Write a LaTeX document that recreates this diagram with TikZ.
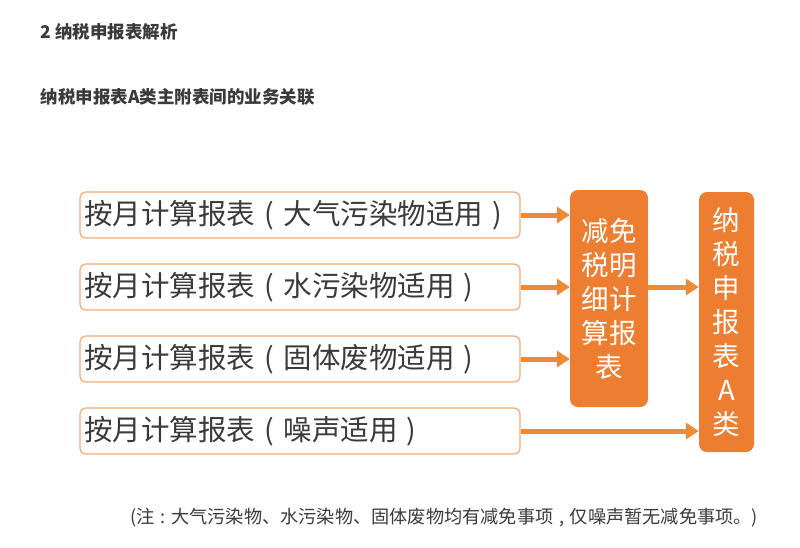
\documentclass[tikz,border=0pt]{standalone}
\usepackage{fontspec}
\setmainfont{Noto Sans CJK SC}
\usetikzlibrary{arrows.meta}

\definecolor{orgfill}{HTML}{ED7D31}
\definecolor{orgline}{HTML}{F7A971}
\definecolor{orgarrow}{HTML}{F08A32}
\definecolor{txtgray}{HTML}{3A3A3A}

% centred full-width punctuation
\newcommand{\fwlp}{\makebox[1em]{(}}
\newcommand{\fwrp}{\makebox[1em]{)}}
\newcommand{\fwcolon}{\makebox[0.9em]{:}}
\newcommand{\fwcomma}{\makebox[0.9em]{,}}

\tikzset{
	monthbox/.style={draw=orgline,line width=1.2pt,rounded corners=6pt,minimum height=46pt,
		inner xsep=4pt,text width=432pt,align=left,text=txtgray,
		font=\fontsize{28.5}{32}\selectfont},
	sumbox/.style={fill=orgfill,rounded corners=8pt,text=white,align=center,
		font=\fontsize{27.5}{34}\selectfont},
	flow/.style={orgarrow,line width=5pt,-{Triangle[length=13pt,width=16pt]}}
}

\begin{document}
\begin{tikzpicture}[x=1pt,y=-1pt]
	\useasboundingbox (0,0) rectangle (800,547);

	%Titles
	\node[anchor=west,font=\fontsize{17.5}{20}\selectfont\bfseries,text=txtgray] at (37,32) (t1) {2 纳税申报表解析};
	\node[anchor=west,font=\fontsize{17.5}{20}\selectfont\bfseries,text=txtgray] at (37,97) (t2) {纳税申报表A类主附表间的业务关联};

	%Monthly tables
	\node[monthbox] at (300,215) (m1) {按月计算报表\fwlp 大气污染物适用\fwrp};
	\node[monthbox] at (300,287) (m2) {按月计算报表\fwlp 水污染物适用\fwrp};
	\node[monthbox] at (300,359) (m3) {按月计算报表\fwlp 固体废物适用\fwrp};
	\node[monthbox] at (300,431) (m4) {按月计算报表\fwlp 噪声适用\fwrp};

	%Reduction table
	\node[sumbox,minimum width=78pt,minimum height=217pt] at (609,298.5) (jm) {减免\\税明\\细计\\算报\\表};

	%Main table A
	\node[sumbox,minimum width=55pt,minimum height=260pt] at (726.5,322) (na) {纳\\税\\申\\报\\表\\A\\类};

	%Arrows
	\draw[flow] (m1.east) -- (m1.east -| jm.west);
	\draw[flow] (m2.east) -- (m2.east -| jm.west);
	\draw[flow] (m3.east) -- (m3.east -| jm.west);
	\draw[flow] (m4.east) -- (m4.east -| na.west);
	\draw[flow] (jm.east |- m2.east) -- (m2.east -| na.west);

	%Note
	\node[anchor=west,font=\fontsize{18.2}{20}\selectfont,text=txtgray] at (127,518) (note) {(注\fwcolon 大气污染物、水污染物、固体废物均有减免事项\fwcomma 仅噪声暂无减免事项。)};
\end{tikzpicture}
\end{document}
